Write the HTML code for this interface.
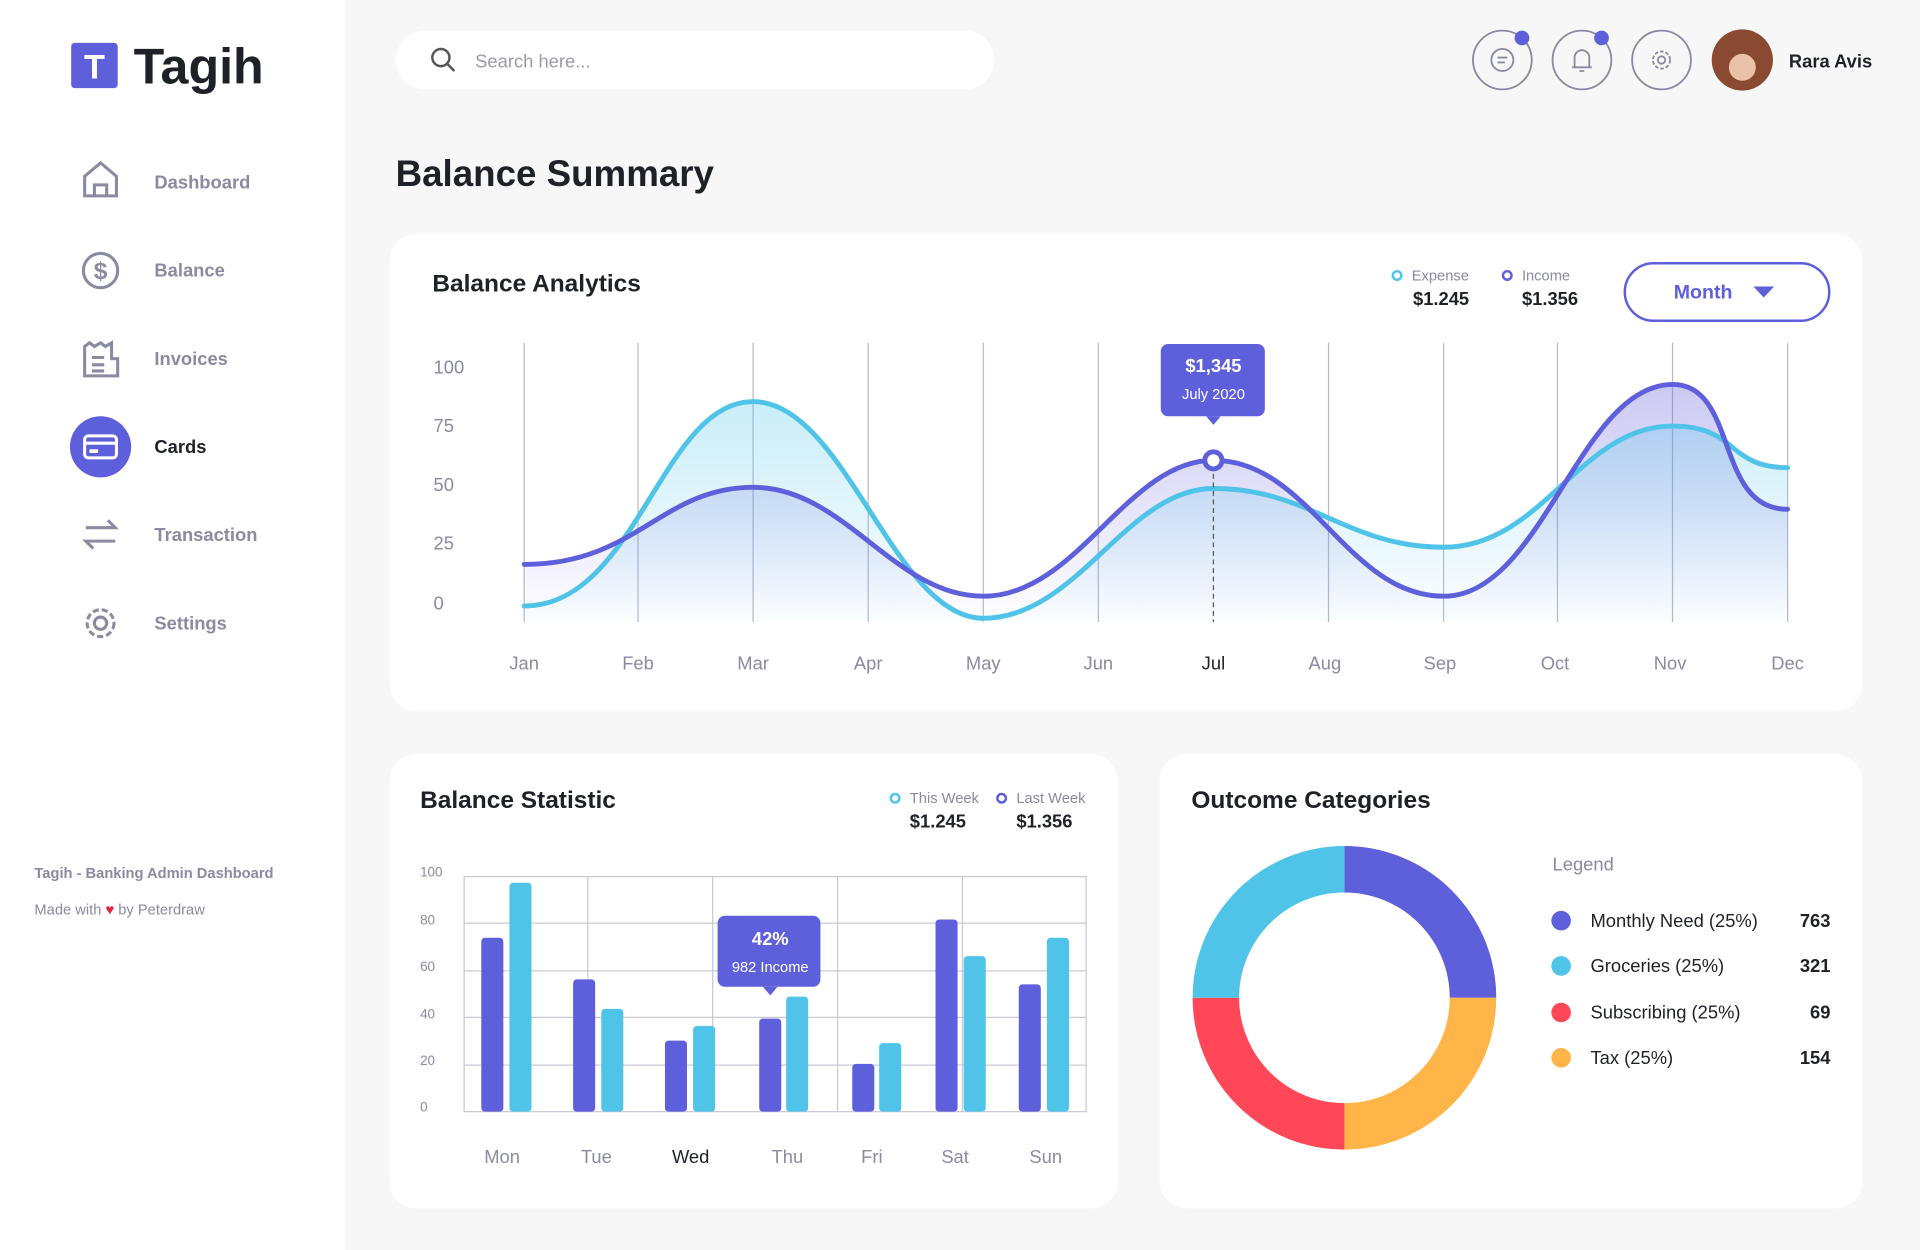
<!DOCTYPE html>
<html><head><meta charset="utf-8"><style>
html,body{margin:0;padding:0;background:#f7f7f8;}
svg{display:block;font-family:"Liberation Sans",sans-serif;}
</style></head><body>
<svg width="1920" height="1250" viewBox="0 0 1568 1021" xmlns="http://www.w3.org/2000/svg">
<defs>
<linearGradient id="gP" x1="0" y1="0" x2="0" y2="1"><stop offset="0" stop-color="#6b63dc" stop-opacity="0.35"/><stop offset="1" stop-color="#6b63dc" stop-opacity="0"/></linearGradient>
<linearGradient id="gC" x1="0" y1="0" x2="0" y2="1"><stop offset="0" stop-color="#4fc3e8" stop-opacity="0.3"/><stop offset="1" stop-color="#4fc3e8" stop-opacity="0.02"/></linearGradient>
</defs>
<rect width="1568" height="1021" fill="#f7f7f8"/>
<rect width="282" height="1021" fill="#fff"/>
<!-- logo -->
<rect x="58" y="35" width="38" height="37" rx="3" fill="#5d5fdb"/>
<text x="77" y="64" font-size="28" font-weight="bold" fill="#fff" text-anchor="middle">T</text>
<text x="109" y="68" font-size="41" font-weight="bold" fill="#1f2128">Tagih</text>
<!-- nav -->
<g fill="none" stroke="#8a8aa0" stroke-width="2.5">
<path d="M69 160 V144 L82 133 L95 144 V160 Z M77 160 V151 H87 V160"/>
<circle cx="82" cy="221" r="14"/>
<path d="M69 283 V307 H96 V293 H91 V280 L86 283 L82 280 L77 283 L73 280 Z M75 292 H85 M75 298 H85 M75 303 H85"/>
<path d="M70 431 H94 L88 425 M94 442 H70 L76 448"/>
<circle cx="82" cy="509" r="5"/><circle cx="82" cy="509" r="11" stroke-dasharray="5 2.5"/>
</g>
<text x="82" y="228" font-size="20" font-weight="bold" fill="#8a8aa0" text-anchor="middle">$</text>
<circle cx="82" cy="365" r="25" fill="#5d5fdb"/>
<rect x="69" y="356" width="26" height="18" rx="3" fill="none" stroke="#fff" stroke-width="2.5"/>
<line x1="69" y1="362" x2="95" y2="362" stroke="#fff" stroke-width="2.5"/>
<rect x="73" y="367" width="7" height="3" fill="#fff"/>
<g font-size="15" font-weight="bold" fill="#8a8aa0">
<text x="126" y="154">Dashboard</text><text x="126" y="226">Balance</text><text x="126" y="298">Invoices</text>
<text x="126" y="370" fill="#1f2128">Cards</text><text x="126" y="442">Transaction</text><text x="126" y="514">Settings</text>
</g>
<text x="28" y="717" font-size="12" font-weight="bold" fill="#8a8aa0">Tagih - Banking Admin Dashboard</text>
<text x="28" y="747" font-size="12" fill="#8a8aa0">Made with <tspan fill="#e0243a">♥</tspan> by Peterdraw</text>
<!-- top bar -->
<rect x="323" y="25" width="489" height="48" rx="24" fill="#fff"/>
<circle cx="360" cy="47" r="7" fill="none" stroke="#555" stroke-width="2"/><line x1="365" y1="52" x2="371" y2="58" stroke="#555" stroke-width="2"/>
<text x="388" y="55" font-size="15" fill="#9a9aa8">Search here...</text>
<g fill="none" stroke="#8a8aa0" stroke-width="1.5">
<circle cx="1227" cy="49" r="24"/><circle cx="1292" cy="49" r="24"/><circle cx="1357" cy="49" r="24"/>
<circle cx="1227" cy="49" r="9"/><path d="M1223 47 H1231 M1223 51 H1229"/>
<path d="M1286 55 V47 A6 6 0 0 1 1298 47 V55 Z M1284 55 H1300 M1290 58 H1294"/>
<circle cx="1357" cy="49" r="3"/><circle cx="1357" cy="49" r="7" stroke-dasharray="3 1.5"/>
</g>
<circle cx="1243" cy="31" r="6" fill="#5d5fdb"/><circle cx="1308" cy="31" r="6" fill="#5d5fdb"/>
<circle cx="1423" cy="49" r="25" fill="#8a4a32"/><circle cx="1423" cy="55" r="11" fill="#e9c2a8"/>
<text x="1461" y="55" font-size="15" font-weight="bold" fill="#1f2128">Rara Avis</text>
<text x="323" y="152" font-size="30" font-weight="bold" fill="#1f2128">Balance Summary</text>
<!-- card1 -->
<rect x="318" y="191" width="1203" height="390" rx="22" fill="#fff"/>
<text x="353" y="238" font-size="20" font-weight="bold" fill="#1f2128">Balance Analytics</text>
<circle cx="1141" cy="225" r="3.5" fill="none" stroke="#4fc3e8" stroke-width="2"/>
<text x="1153" y="229" font-size="12" fill="#8a8aa0">Expense</text>
<text x="1154" y="249" font-size="15" font-weight="bold" fill="#1f2128">$1.245</text>
<circle cx="1231" cy="225" r="3.5" fill="none" stroke="#5d5fdb" stroke-width="2"/>
<text x="1243" y="229" font-size="12" fill="#8a8aa0">Income</text>
<text x="1243" y="249" font-size="15" font-weight="bold" fill="#1f2128">$1.356</text>
<rect x="1327" y="215" width="167" height="47" rx="23.5" fill="none" stroke="#5d5fdb" stroke-width="2"/>
<text x="1367" y="244" font-size="16" font-weight="bold" fill="#5d5fdb">Month</text>
<path d="M1432 234 H1449 L1440.5 243 Z" fill="#5d5fdb"/>
<g stroke="#b9b9c9" stroke-width="1">
<line x1="428" y1="280" x2="428" y2="508"/><line x1="521" y1="280" x2="521" y2="508"/><line x1="615" y1="280" x2="615" y2="508"/><line x1="709" y1="280" x2="709" y2="508"/><line x1="803" y1="280" x2="803" y2="508"/><line x1="897" y1="280" x2="897" y2="508"/><line x1="1085" y1="280" x2="1085" y2="508"/><line x1="1179" y1="280" x2="1179" y2="508"/><line x1="1272" y1="280" x2="1272" y2="508"/><line x1="1366" y1="280" x2="1366" y2="508"/><line x1="1460" y1="280" x2="1460" y2="508"/>
</g>
<g font-size="15" fill="#8a8aa0">
<text x="354" y="305">100</text><text x="354" y="353">75</text><text x="354" y="401">50</text><text x="354" y="449">25</text><text x="354" y="498">0</text>
</g>
<g font-size="15" fill="#8a8aa0" text-anchor="middle">
<text x="428" y="547">Jan</text><text x="521" y="547">Feb</text><text x="615" y="547">Mar</text><text x="709" y="547">Apr</text><text x="803" y="547">May</text><text x="897" y="547">Jun</text><text x="991" y="547" fill="#1f2128">Jul</text><text x="1082" y="547">Aug</text><text x="1176" y="547">Sep</text><text x="1270" y="547">Oct</text><text x="1364" y="547">Nov</text><text x="1460" y="547">Dec</text>
</g>
<path d="M428 461 C520 461 540 398 615 398 C690 398 730 487 803 487 C880 487 920 376 991 376 C1070 376 1100 487 1179 487 C1260 487 1290 314 1366 314 C1420 314 1400 416 1460 416 V508 H428 Z" fill="url(#gP)"/>
<path d="M428 495 C520 495 540 328 615 328 C690 328 730 505 803 505 C880 505 920 399 991 399 C1070 399 1100 447 1179 447 C1260 447 1290 348 1366 348 C1420 348 1410 382 1460 382 V508 H428 Z" fill="url(#gC)"/>
<path d="M428 495 C520 495 540 328 615 328 C690 328 730 505 803 505 C880 505 920 399 991 399 C1070 399 1100 447 1179 447 C1260 447 1290 348 1366 348 C1420 348 1410 382 1460 382" fill="none" stroke="#4fc3e8" stroke-width="4" stroke-linecap="round"/>
<path d="M428 461 C520 461 540 398 615 398 C690 398 730 487 803 487 C880 487 920 376 991 376 C1070 376 1100 487 1179 487 C1260 487 1290 314 1366 314 C1420 314 1400 416 1460 416" fill="none" stroke="#5d5fdb" stroke-width="4" stroke-linecap="round"/>
<line x1="991" y1="380" x2="991" y2="508" stroke="#555" stroke-dasharray="4 3"/>
<circle cx="991" cy="376" r="7" fill="#fff" stroke="#5d5fdb" stroke-width="4"/>
<rect x="948" y="281" width="85" height="59" rx="6" fill="#5d5fdb"/>
<path d="M985 340 H997 L991 347 Z" fill="#5d5fdb"/>
<text x="991" y="304" font-size="15" font-weight="bold" fill="#fff" text-anchor="middle">$1,345</text>
<text x="991" y="326" font-size="12" fill="#fff" text-anchor="middle">July 2020</text>
<!-- card2 -->
<rect x="318" y="616" width="595" height="371" rx="22" fill="#fff"/>
<text x="343" y="660" font-size="20" font-weight="bold" fill="#1f2128">Balance Statistic</text>
<circle cx="731" cy="652" r="3.5" fill="none" stroke="#4fc3e8" stroke-width="2"/>
<text x="743" y="656" font-size="12" fill="#8a8aa0">This Week</text>
<text x="743" y="676" font-size="15" font-weight="bold" fill="#1f2128">$1.245</text>
<circle cx="818" cy="652" r="3.5" fill="none" stroke="#5d5fdb" stroke-width="2"/>
<text x="830" y="656" font-size="12" fill="#8a8aa0">Last Week</text>
<text x="830" y="676" font-size="15" font-weight="bold" fill="#1f2128">$1.356</text>
<g stroke="#c9c9d6" stroke-width="1" fill="none">
<rect x="379" y="716" width="508" height="192"/>
<line x1="379" y1="754" x2="887" y2="754"/><line x1="379" y1="793" x2="887" y2="793"/><line x1="379" y1="831" x2="887" y2="831"/><line x1="379" y1="870" x2="887" y2="870"/>
<line x1="480" y1="716" x2="480" y2="908"/><line x1="582" y1="716" x2="582" y2="908"/><line x1="684" y1="716" x2="684" y2="908"/><line x1="786" y1="716" x2="786" y2="908"/>
</g>
<g font-size="11" fill="#8a8aa0">
<text x="343" y="716">100</text><text x="343" y="755">80</text><text x="343" y="793">60</text><text x="343" y="832">40</text><text x="343" y="870">20</text><text x="343" y="908">0</text>
</g>
<g fill="#5d5fdb">
<rect x="393" y="766" width="18" height="142" rx="3"/><rect x="468" y="800" width="18" height="108" rx="3"/><rect x="543" y="850" width="18" height="58" rx="3"/><rect x="620" y="832" width="18" height="76" rx="3"/><rect x="696" y="869" width="18" height="39" rx="3"/><rect x="764" y="751" width="18" height="157" rx="3"/><rect x="832" y="804" width="18" height="104" rx="3"/>
</g>
<g fill="#4fc3e8">
<rect x="416" y="721" width="18" height="187" rx="3"/><rect x="491" y="824" width="18" height="84" rx="3"/><rect x="566" y="838" width="18" height="70" rx="3"/><rect x="642" y="814" width="18" height="94" rx="3"/><rect x="718" y="852" width="18" height="56" rx="3"/><rect x="787" y="781" width="18" height="127" rx="3"/><rect x="855" y="766" width="18" height="142" rx="3"/>
</g>
<rect x="586" y="748" width="84" height="58" rx="6" fill="#5d5fdb"/>
<path d="M623 806 H635 L629 813 Z" fill="#5d5fdb"/>
<text x="629" y="772" font-size="15" font-weight="bold" fill="#fff" text-anchor="middle">42%</text>
<text x="629" y="794" font-size="12" fill="#fff" text-anchor="middle">982 Income</text>
<g font-size="15" fill="#8a8aa0" text-anchor="middle">
<text x="410" y="950">Mon</text><text x="487" y="950">Tue</text><text x="564" y="950" fill="#1f2128">Wed</text><text x="643" y="950">Thu</text><text x="712" y="950">Fri</text><text x="780" y="950">Sat</text><text x="854" y="950">Sun</text>
</g>
<!-- card3 -->
<rect x="947" y="616" width="574" height="371" rx="22" fill="#fff"/>
<text x="973" y="660" font-size="20" font-weight="bold" fill="#1f2128">Outcome Categories</text>
<g fill="none" stroke-width="38">
<path d="M1098 710 A105 105 0 0 1 1203 815" stroke="#5d5fdb"/>
<path d="M1203 815 A105 105 0 0 1 1098 920" stroke="#ffb547"/>
<path d="M1098 920 A105 105 0 0 1 993 815" stroke="#ff4757"/>
<path d="M993 815 A105 105 0 0 1 1098 710" stroke="#4fc3e8"/>
</g>
<text x="1268" y="711" font-size="15" fill="#8a8aa0">Legend</text>
<circle cx="1275" cy="752" r="8" fill="#5d5fdb"/><circle cx="1275" cy="789" r="8" fill="#4fc3e8"/><circle cx="1275" cy="827" r="8" fill="#ff4757"/><circle cx="1275" cy="864" r="8" fill="#ffb547"/>
<g font-size="15" fill="#1f2128">
<text x="1299" y="757">Monthly Need (25%)</text><text x="1299" y="794">Groceries (25%)</text><text x="1299" y="832">Subscribing (25%)</text><text x="1299" y="869">Tax (25%)</text>
</g>
<g font-size="15" font-weight="bold" fill="#1f2128" text-anchor="end">
<text x="1495" y="757">763</text><text x="1495" y="794">321</text><text x="1495" y="832">69</text><text x="1495" y="869">154</text>
</g>
</svg>
</body></html>
